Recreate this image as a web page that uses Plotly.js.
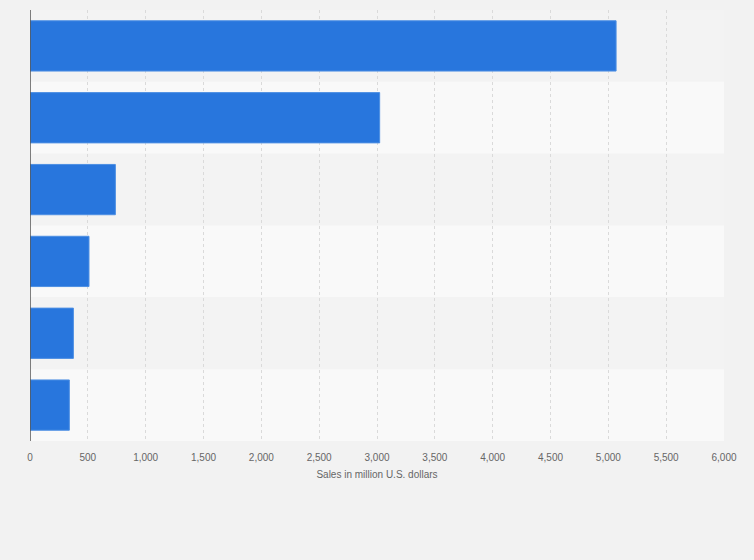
<!DOCTYPE html>
<html>
<head>
<meta charset="utf-8">
<script src="https://cdn.plot.ly/plotly-3.0.1.min.js"></script>
<style>html,body{margin:0;padding:0;background:#f2f2f2;}#chart{width:754px;height:560px;}</style>
</head>
<body>
<div id="chart"></div>
<script>
const categories = ["Item 1", "Item 2", "Item 3", "Item 4", "Item 5", "Item 6"];
const sales = [5067, 3023, 738, 510, 375, 340];
const tickValues = [0, 500, 1000, 1500, 2000, 2500, 3000, 3500, 4000, 4500, 5000, 5500, 6000];
const tickLabels = ["0", "500", "1,000", "1,500", "2,000", "2,500", "3,000", "3,500", "4,000", "4,500", "5,000", "5,500", "6,000"];

const shapes = categories.map((c, i) => ({
  type: 'rect', xref: 'paper', yref: 'y', layer: 'below',
  x0: 0, x1: 1, y0: i - 0.5, y1: i + 0.5,
  fillcolor: i % 2 === 0 ? '#f3f3f3' : '#f9f9f9', line: {width: 0}
}));

const trace = {
  type: 'bar', orientation: 'h',
  x: sales, y: categories,
  marker: {color: '#2876dd', line: {color: '#4d8fe3', width: 1}},
  hoverinfo: 'x'
};

const layout = {
  width: 754, height: 560,
  paper_bgcolor: '#f2f2f2', plot_bgcolor: 'rgba(0,0,0,0)',
  margin: {l: 30, r: 30, t: 10, b: 119},
  bargap: 0.3,
  showlegend: false,
  shapes: shapes,
  xaxis: {
    range: [0, 6000], tickvals: tickValues, ticktext: tickLabels,
    showgrid: true, gridcolor: '#dadada', griddash: 'dot', gridwidth: 1,
    zeroline: false, showline: false, ticks: '',
    ticklabelstandoff: 9,
    tickfont: {family: 'Liberation Sans, Arial, sans-serif', size: 10, color: '#666666'},
    title: {text: 'Sales in million U.S. dollars', standoff: 8,
            font: {family: 'Liberation Sans, Arial, sans-serif', size: 10, color: '#666666'}},
    fixedrange: true
  },
  yaxis: {
    autorange: 'reversed', showticklabels: false, showgrid: false,
    zeroline: false, showline: false, ticks: '', fixedrange: true
  }
};
layout.shapes.push({type: 'line', xref: 'x', yref: 'paper', x0: 0, x1: 0, y0: 0, y1: 1,
  line: {color: '#555555', width: 1.5}});

Plotly.newPlot('chart', [trace], layout, {displayModeBar: false, staticPlot: true});
</script>
</body>
</html>
